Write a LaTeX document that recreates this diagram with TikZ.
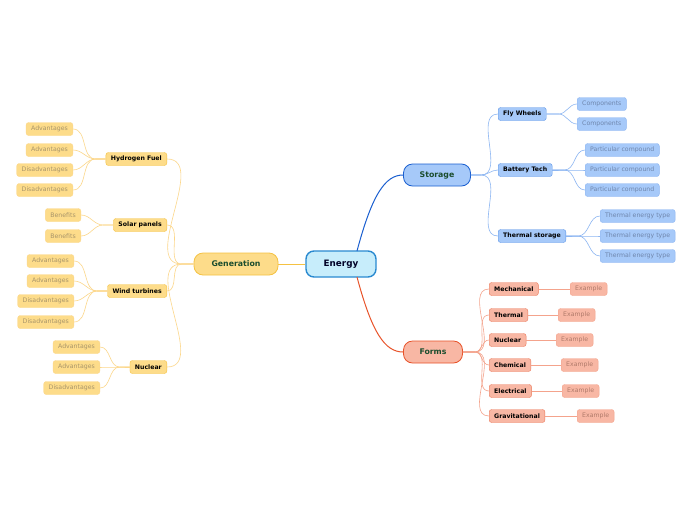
\documentclass[tikz,border=0pt]{standalone}
\usepackage{fontspec}
\setmainfont{DejaVu Sans}
\begin{document}
\begin{tikzpicture}[x=1pt,y=-1pt,
 base/.style={rounded corners=2.5pt,inner ysep=0pt,minimum height=13pt,font=\fontsize{6.2}{7}\selectfont,inner xsep=5pt},
 Gc/.style={base,fill=yellowF,draw=yellowD,font=\fontsize{6.2}{7}\selectfont\bfseries,anchor=east},
 Gl/.style={base,fill=yellowF,draw=yellowL,text=leafTG,anchor=east},
 Bc/.style={base,fill=blueF,draw=blueD,font=\fontsize{6.2}{7}\selectfont\bfseries,anchor=west},
 Bl/.style={base,fill=blueF,draw=blueL,text=leafTB,anchor=west},
 Rc/.style={base,fill=redF,draw=redD,font=\fontsize{6.2}{7}\selectfont\bfseries,anchor=west},
 Rl/.style={base,fill=redF,draw=redL,text=leafTR,anchor=west},
 main/.style={rounded corners=9pt,minimum height=22pt,inner xsep=10pt,font=\fontsize{7.8}{8}\selectfont\bfseries,text=darkG,line width=0.8pt},
 gline/.style={draw=yellowL,line width=0.6pt},
 bline/.style={draw=blueL,line width=0.6pt},
 rline/.style={draw=redL,line width=0.6pt}]
\definecolor{yellowF}{HTML}{FDDC8A}\definecolor{yellowD}{HTML}{F5C242}\definecolor{yellowL}{HTML}{FCD78A}
\definecolor{blueF}{HTML}{A6C9F9}\definecolor{blueD}{HTML}{5C95E8}\definecolor{blueL}{HTML}{8DB6F2}
\definecolor{redF}{HTML}{F8B7A4}\definecolor{redD}{HTML}{EC7A5C}\definecolor{redL}{HTML}{F4A38C}
\definecolor{leafTG}{HTML}{A8956A}\definecolor{leafTB}{HTML}{6F86AC}\definecolor{leafTR}{HTML}{B07A6A}
\definecolor{darkG}{HTML}{1B4D2E}\definecolor{eB}{HTML}{2A8AD0}\definecolor{sB}{HTML}{1A5FD0}\definecolor{fR}{HTML}{E8532A}
\useasboundingbox[fill=white] (0,0) rectangle (696,520);
\node[main,fill=cyan!22,draw=eB,line width=1.4pt,minimum width=70pt,minimum height=26pt,rounded corners=8pt,text=black!85!blue,font=\fontsize{8.8}{9}\selectfont\bfseries] (E) at (341,264) {Energy};
\node[main,fill=yellowF,draw=yellowD,minimum width=84pt] (G) at (236,264) {Generation};
\node[main,fill=blueF,draw=sB,minimum width=67pt] (S) at (437,175) {Storage};
\node[main,fill=redF,draw=fR,minimum width=59pt] (F) at (433,352) {Forms};
\draw[draw=yellowD,line width=1pt] (E.west) -- (G.east);
\draw[draw=sB,line width=1pt] (357,251) .. controls (372,195) and (385,175) .. (S.west);
\draw[draw=fR,line width=1pt] (357,277) .. controls (372,333) and (385,352) .. (F.west);
% generation children
\node[Gc] (g1) at (167,159) {Hydrogen Fuel};
\node[Gc] (g2) at (167,225) {Solar panels};
\node[Gc] (g3) at (167,291) {Wind turbines};
\node[Gc] (g4) at (167,367) {Nuclear};
\foreach \c in {g1,g2,g3,g4}{\draw[gline] (G.west) -- ++(-12,0) to[out=180,in=0] (\c.east);}
\node[Gl] (a1) at (73,129) {Advantages};
\node[Gl] (a2) at (73,150) {Advantages};
\node[Gl] (a3) at (73,170) {Disadvantages};
\node[Gl] (a4) at (73,190) {Disadvantages};
\foreach \c in {a1,a2,a3,a4}{\draw[gline] (g1.west) -- ++(-10,0) to[out=180,in=0] (\c.east);}
\node[Gl] (b1) at (81,215) {Benefits};
\node[Gl] (b2) at (81,236) {Benefits};
\foreach \c in {b1,b2}{\draw[gline] (g2.west) -- ++(-10,0) to[out=180,in=0] (\c.east);}
\node[Gl] (c1) at (74,261) {Advantages};
\node[Gl] (c2) at (74,281) {Advantages};
\node[Gl] (c3) at (74,301) {Disadvantages};
\node[Gl] (c4) at (74,322) {Disadvantages};
\foreach \c in {c1,c2,c3,c4}{\draw[gline] (g3.west) -- ++(-10,0) to[out=180,in=0] (\c.east);}
\node[Gl] (d1) at (100,347) {Advantages};
\node[Gl] (d2) at (100,367) {Advantages};
\node[Gl] (d3) at (100,388) {Disadvantages};
\foreach \c in {d1,d2,d3}{\draw[gline] (g4.west) -- ++(-10,0) to[out=180,in=0] (\c.east);}
% storage
\node[Bc] (s1) at (498,114) {Fly Wheels};
\node[Bc] (s2) at (498,170) {Battery Tech};
\node[Bc] (s3) at (498,236) {Thermal storage};
\foreach \c in {s1,s2,s3}{\draw[bline] (S.east) -- ++(10,0) to[out=0,in=180] (\c.west);}
\node[Bl] (t1) at (577,104) {Components};
\node[Bl] (t2) at (577,124) {Components};
\foreach \c in {t1,t2}{\draw[bline] (s1.east) -- ++(12,0) to[out=0,in=180] (\c.west);}
\node[Bl] (u1) at (585,150) {Particular compound};
\node[Bl] (u2) at (585,170) {Particular compound};
\node[Bl] (u3) at (585,190) {Particular compound};
\foreach \c in {u1,u2,u3}{\draw[bline] (s2.east) -- ++(12,0) to[out=0,in=180] (\c.west);}
\node[Bl] (v1) at (600,216) {Thermal energy type};
\node[Bl] (v2) at (600,236) {Thermal energy type};
\node[Bl] (v3) at (600,256) {Thermal energy type};
\foreach \c in {v1,v2,v3}{\draw[bline] (s3.east) -- ++(12,0) to[out=0,in=180] (\c.west);}
% forms
\node[Rc] (f1) at (489,289) {Mechanical};
\node[Rc] (f2) at (489,315) {Thermal};
\node[Rc] (f3) at (489,340) {Nuclear};
\node[Rc] (f4) at (489,365) {Chemical};
\node[Rc] (f5) at (489,391) {Electrical};
\node[Rc] (f6) at (489,416) {Gravitational};
\foreach \c in {f1,f2,f3,f4,f5,f6}{\draw[rline] (F.east) -- ++(12,0) to[out=0,in=180] (\c.west);}
\node[Rl] (e1) at (570,289) {Example};
\node[Rl] (e2) at (558,315) {Example};
\node[Rl] (e3) at (556,340) {Example};
\node[Rl] (e4) at (561,365) {Example};
\node[Rl] (e5) at (562,391) {Example};
\node[Rl] (e6) at (577,416) {Example};
\foreach \i in {1,...,6}{\draw[rline] (f\i.east) -- (e\i.west);}
\end{tikzpicture}
\end{document}
